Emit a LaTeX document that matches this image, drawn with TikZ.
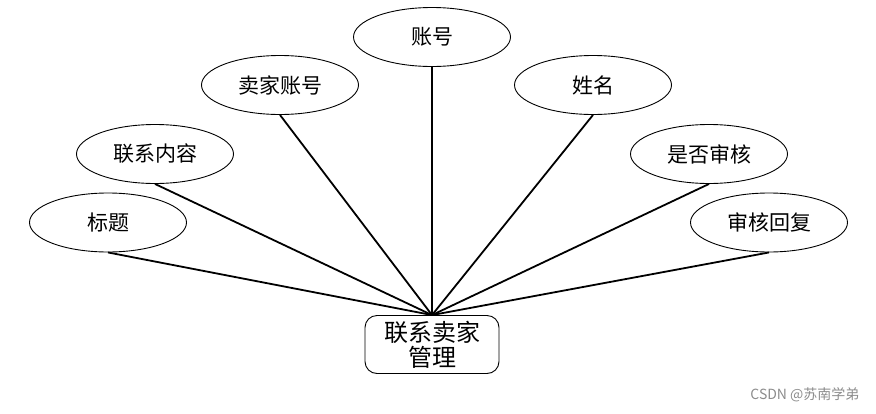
\documentclass[tikz,border=0pt]{standalone}
\usepackage{fontspec}
\newfontfamily\cjk{Noto Sans CJK SC}
\usetikzlibrary{shapes.geometric}
\begin{document}
\begin{tikzpicture}[x=1pt,y=-1pt,
  attr/.style={ellipse,draw,line width=0.9pt,minimum width=157pt,minimum height=59pt,inner sep=0pt,font=\cjk\fontsize{21}{24}\selectfont},
  ent/.style={draw,rounded corners=12pt,line width=0.9pt,minimum width=134pt,minimum height=58pt,inner sep=0pt,align=center,font=\cjk\fontsize{24}{25}\selectfont},
  link/.style={line width=1.8pt}]
\useasboundingbox (0,0) rectangle (876,413);
\node[ent] (m) at (432,344.5) {联系卖家\\管理};
\node[attr] (a1) at (432,37) {账号};
\node[attr] (a2) at (280,85) {卖家账号};
\node[attr] (a3) at (593,85) {姓名};
\node[attr] (a4) at (155,154) {联系内容};
\node[attr] (a5) at (709,154) {是否审核};
\node[attr] (a6) at (108,222.5) {标题};
\node[attr] (a7) at (769,222.5) {审核回复};
\foreach \a in {a1,a2,a3,a4,a5,a6,a7}
  \draw[link] (\a.south) -- (m.north);
\node[font=\cjk\fontsize{14}{16}\selectfont,text=black!45,anchor=east] (wm) at (863,395) {CSDN @苏南学弟};
\end{tikzpicture}
\end{document}
